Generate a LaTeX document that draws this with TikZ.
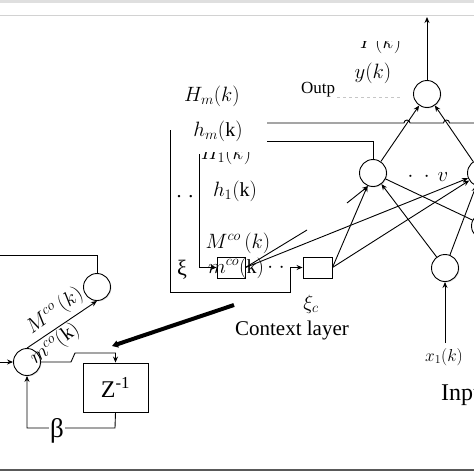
\documentclass[tikz,border=0pt]{standalone}
\usepackage{fontspec}
\setmainfont{Liberation Serif}
\usetikzlibrary{arrows.meta,shadows}
\begin{document}
\begin{tikzpicture}[x=1pt,y=-1pt,
  shad/.style={drop shadow={shadow xshift=0.9pt,shadow yshift=-0.9pt,opacity=0.3,fill=gray}},
  neuron/.style={circle,draw,line width=0.9pt,minimum size=27pt,inner sep=0pt,fill=white,shad},
  cbox/.style={draw,line width=0.9pt,minimum width=28pt,minimum height=21pt,inner sep=0pt,fill=white,shad},
  conn/.style={line width=0.9pt},
  arr/.style={conn,-{Stealth[length=6pt,width=5pt]}},
  lab/.style={inner sep=0pt,font=\fontsize{20}{22}\selectfont},
  biglab/.style={inner sep=0pt,font=\fontsize{21}{24}\selectfont},
]
\clip (0,0) rectangle (474,474);
\fill[white] (0,0) rectangle (474,474);
% frame lines
\fill[gray!25] (0,0) rectangle (474,2.5);
\draw[gray!35,line width=0.8pt] (0,15) -- (474,15);
\draw[gray!70!black,line width=1.2pt] (0,470) -- (474,470);

% ---------------- nodes ----------------
\node[neuron] (O)  at (427,94) {};
\node[neuron] (H1) at (373,173) {};
\node[neuron] (H2) at (481,173) {};
\node[neuron] (C2) at (485,226) {};
\node[neuron] (I)  at (445,268) {};
\node[neuron] (A)  at (97,287) {};
\node[neuron] (B)  at (27,362) {};
\node[cbox] (mco) at (231,267.5) {};
\node[cbox,minimum width=29pt] (xic) at (317.5,267.5) {};
\node[cbox,minimum width=65pt,minimum height=49pt] (Z) at (115.5,387.5) {};

% ---------------- coordinates ----------------
\coordinate (ytop) at (427,17);
\coordinate (hmA) at (267,123);
\coordinate (hmB) at (267,141);
\coordinate (x1in) at (445,343);
\coordinate (s1) at (347,203);
\coordinate (mcoend) at (307,230);
\coordinate (outer) at (170,130);
\coordinate (inner) at (199,154);
\coordinate (thA) at (234,305);
\coordinate (thB) at (112,346);
\coordinate (Aleft) at (0,255);
\coordinate (Bin) at (0,362);

% ---------------- right network ----------------
\draw[arr] (O) -- (ytop);
\draw[arr] (H1) -- (O);
\draw[arr] (H2) -- (O);
\draw[conn] (hmA) -- (404,123) arc[start angle=180,end angle=360,radius=3]
  -- (443.5,123) arc[start angle=180,end angle=360,radius=3] -- (474,123);
\draw[conn] (hmB) -| (H1.north);
\draw[arr] (x1in) -- (I);
\draw[arr] (I) -- (H1);
\draw[arr] (I) -- (H2);
\draw[arr] (xic.east) -- (H1);
\draw[arr] (xic.east) -- (H2);
\draw[arr] (mco.east) -- (H2);
\draw[conn] (mco.east) -- (mcoend);
\draw[arr] (s1) -- (H1.250);
\draw[conn] (H1) -- (C2);

% ---------------- context layer ----------------
\draw[arr] (outer) -- (170,292) -- (290,292) |- (xic.west);
\draw[arr] (inner) |- (mco.west);
\draw[line width=4pt,-{Triangle[length=6pt,width=7pt]}] (thA) -- (thB);

% ---------------- left part ----------------
\draw[conn] (A.north) |- (Aleft);
\draw[arr] (B.north) -- (A.south);
\draw[arr] (Bin) -- (B.west);
\draw[arr] (B.east) -- (71,362) -- (75,353) -| (Z.north);
\draw[arr] (Z.south) -- (115,428) -| (B.south);

% ---------------- labels ----------------
\node[lab] (lY) at (380,43) {$Y(k)$};
\fill[white] (350,24) rectangle (412,40.5);
\node[lab,font=\fontsize{22}{24}\selectfont] (ly) at (373,73) {$y(k)$};
\node[lab,font=\fontsize{17}{20}\selectfont] (lout) at (318,90) {Outp};
\draw[gray!45,dashed,line width=0.6pt] (337,97) -- (402,97);
\node[lab] (lHm) at (212,96) {$H_m(k)$};
\node[lab] (lH1) at (226,154) {$H_1(k)$};
\fill[white] (203,141) rectangle (262,152);
\node[lab] (lhm) at (218,131) {$h_m(\mathrm{k})$};
\node[lab] (lh1) at (235,191) {$h_1(\mathrm{k})$};
\node[lab] (ldd) at (185,197) {.\,\,.};
\node[lab] (lMco) at (238,243) {$M^{co}\,(k)$};
\node[lab,font=\fontsize{22}{24}\selectfont] (lxi) at (182,270) {ξ};
\node[lab,font=\fontsize{20}{22}\selectfont] (lmco) at (236,268) {$m^{co}(\mathrm{k})$};
\node[lab] (ldots) at (276,268) {$\cdot\;\cdot$};
\node[lab,font=\fontsize{22}{24}\selectfont] (lxic) at (311,304) {$\xi_c$};
\node[biglab] (lctx) at (292,330) {Context layer};
\node[lab,font=\fontsize{22}{24}\selectfont] (lv) at (428,177) {$\cdot\;\cdot\,v$};
\node[lab,font=\fontsize{18}{20}\selectfont] (lx1) at (444,357) {$x_1(k)$};
\node[lab,anchor=west,font=\fontsize{24}{26}\selectfont] (linp) at (441,395) {Input layer};
\node[lab,rotate=36] (lMl) at (55,311) {$M^{co}\,(k)$};
\node[lab,rotate=36] (lml) at (55,344) {$m^{co}(\mathrm{k})$};
\node[lab,font=\fontsize{24}{26}\selectfont] (lZ) at (115.5,387.5) {Z\textsuperscript{-1}};
\node[lab,fill=white,inner sep=1pt,font=\fontsize{27}{28}\selectfont] (lbeta) at (57,431) {β};
\end{tikzpicture}
\end{document}
